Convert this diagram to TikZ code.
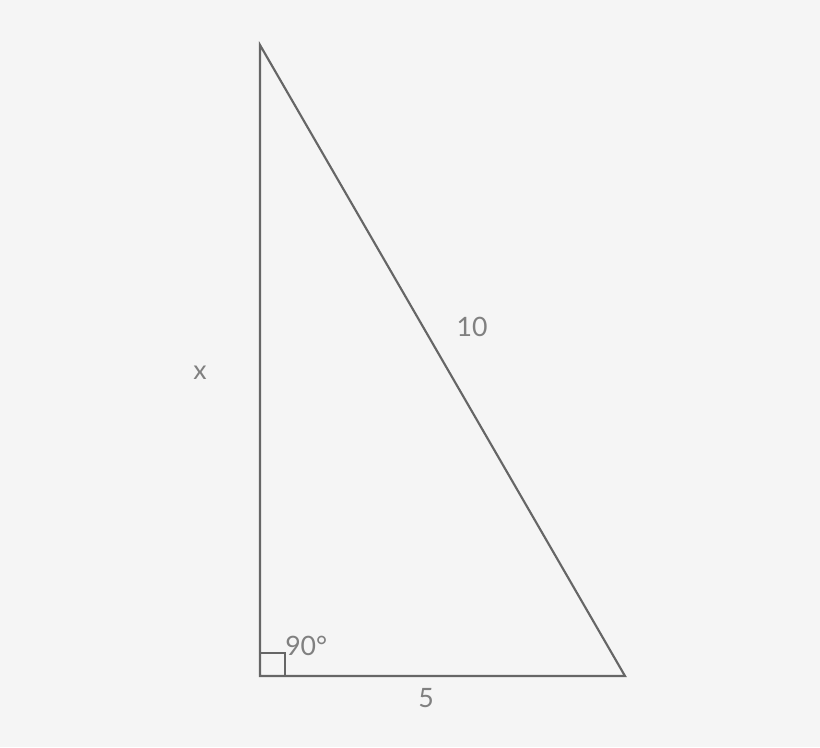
\documentclass[tikz,border=0pt]{standalone}
\usepackage{fontspec}
\setmainfont{Lato}
\definecolor{bg}{HTML}{F5F5F5}
\definecolor{edge}{HTML}{666666}
\definecolor{lbl}{HTML}{808080}
\begin{document}
\begin{tikzpicture}[x=0.75pt,y=-0.75pt,
  side/.style={draw=edge,line width=1.6pt,line join=miter},
  lab/.style={text=lbl,font=\fontsize{20}{23}\selectfont,inner sep=0pt}]
\fill[bg] (0,0) rectangle (820,747);
\useasboundingbox (0,0) rectangle (820,747);
\coordinate (A) at (260,45);
\coordinate (C) at (260,676);
\coordinate (B) at (625,676);
\draw[side] (A) -- (C) -- (B) -- cycle;
\coordinate (r1) at (260,653);
\coordinate (r2) at (285,653);
\coordinate (r3) at (285,676);
\draw[side] (r1) -- (r2) -- (r3);
\node[lab] (x) at (200,373) {x};
\node[lab] (ten) at (472,327) {10};
\node[lab] (five) at (426,698) {5};
\node[lab,anchor=west] (ang) at (285,646) {90°};
\end{tikzpicture}
\end{document}
